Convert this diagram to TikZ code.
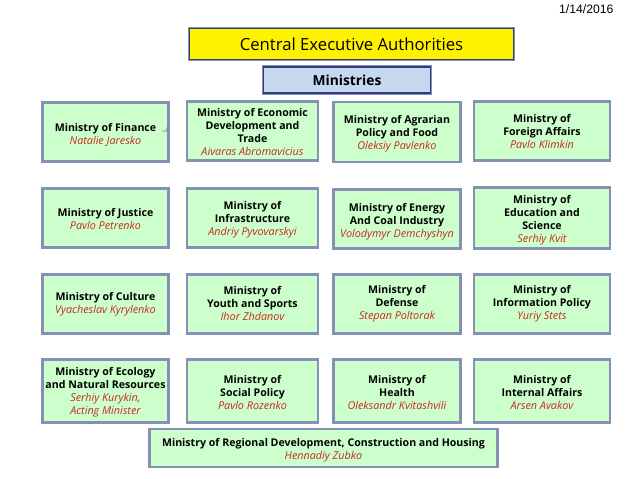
\documentclass[tikz,border=0pt]{standalone}
\usepackage{fontspec}
\setmainfont{Open Sans}
\newfontfamily\datefont{Liberation Sans}
\newcommand{\person}[1]{{\color{namered}\fontsize{10.8}{13}\selectfont\itshape\mdseries #1}}
\newcommand{\topgap}[1]{\rule{0pt}{#1}}
\definecolor{namered}{HTML}{C8281E}
\definecolor{boxgreen}{HTML}{CCFFCC}
\definecolor{boxedge}{HTML}{8490B4}
\definecolor{headblue}{HTML}{C6D7F0}
\definecolor{headedge}{HTML}{2E3A7C}
\definecolor{tickblue}{HTML}{4A7FB5}
\tikzset{
    ministrybox/.style={draw=boxedge, line width=2.4pt, fill=boxgreen, inner sep=0pt, align=center,
        font=\fontsize{10.6}{13}\selectfont\bfseries},
    headbox/.style={preaction={draw=boxedge, line width=3.6pt}, draw=headedge, line width=1.6pt, inner sep=0pt, align=center},
}
\begin{document}
\begin{tikzpicture}[x=1pt,y=1pt]
                \useasboundingbox (0,0) rectangle (638,479);
                \node[font=\datefont\fontsize{12.2}{14}\selectfont, anchor=east] (datelabel) at (617,470) {1/14/2016};

                \node[headbox, fill=yellow, minimum width=324pt, minimum height=31pt, font=\fontsize{16.7}{19}\selectfont] (central) at (351.5,435) {Central Executive Authorities};
                \node[headbox, fill=headblue, minimum width=167pt, minimum height=26pt, font=\fontsize{13.8}{16}\selectfont\bfseries] (ministries) at (347,399) {Ministries};

                % first row
                \node[ministrybox, minimum width=126pt, minimum height=59pt] (finance) at (105.5,347) {\topgap{14pt}Ministry of Finance\\\person{Natalie Jaresko}};
                \node[ministrybox, minimum width=131pt, minimum height=59pt] (economy) at (252.5,348) {\topgap{10pt}Ministry of Economic\\Development and\\Trade\\\person{Aivaras Abromavicius}};
                \node[ministrybox, minimum width=127pt, minimum height=60pt] (agrarian) at (397,347) {\topgap{12pt}Ministry of Agrarian\\Policy and Food\\\person{Oleksiy Pavlenko}};
                \node[ministrybox, minimum width=136pt, minimum height=59pt] (foreign) at (542,348) {\topgap{10pt}Ministry of\\Foreign Affairs\\\person{Pavlo Klimkin}};

                % second row
                \node[ministrybox, minimum width=126pt, minimum height=59pt] (justice) at (105.5,261) {\topgap{10pt}Ministry of Justice\\\person{Pavlo Petrenko}};
                \node[ministrybox, minimum width=131pt, minimum height=59pt] (infrastructure) at (252.5,261) {\topgap{12pt}Ministry of\\Infrastructure\\\person{Andriy Pyvovarskyi}};
                \node[ministrybox, minimum width=127pt, minimum height=59pt] (energy) at (397,260) {\topgap{13pt}Ministry of Energy\\And Coal Industry\\\person{Volodymyr Demchyshyn}};
                \node[ministrybox, minimum width=136pt, minimum height=61pt] (education) at (542,261) {\topgap{12pt}Ministry of\\Education and\\Science\\\person{Serhiy Kvit}};

                % third row
                \node[ministrybox, minimum width=126pt, minimum height=59pt] (culture) at (105.5,175) {Ministry of Culture\\\person{Vyacheslav Kyrylenko}};
                \node[ministrybox, minimum width=131pt, minimum height=59pt] (youth) at (252.5,175) {Ministry of\\Youth and Sports\\\person{Ihor Zhdanov}};
                \node[ministrybox, minimum width=127pt, minimum height=59pt] (defense) at (397,175) {Ministry of\\Defense\\\person{Stepan Poltorak}};
                \node[ministrybox, minimum width=136pt, minimum height=59pt] (information) at (542,175) {Ministry of\\Information Policy\\\person{Yuriy Stets}};

                % fourth row
                \node[ministrybox, minimum width=126pt, minimum height=63pt] (ecology) at (105.5,88) {\topgap{11pt}Ministry of Ecology\\and Natural Resources\\\person{Serhiy Kurykin,}\\\person{Acting Minister}};
                \node[ministrybox, minimum width=131pt, minimum height=63pt] (social) at (252.5,88) {\topgap{11pt}Ministry of\\Social Policy\\\person{Pavlo Rozenko}};
                \node[ministrybox, minimum width=127pt, minimum height=63pt] (health) at (397,88) {\topgap{11pt}Ministry of\\Health\\\person{Oleksandr Kvitashvili}};
                \node[ministrybox, minimum width=136pt, minimum height=63pt] (internal) at (542,88) {\topgap{11pt}Ministry of\\Internal Affairs\\\person{Arsen Avakov}};

                \node[ministrybox, minimum width=348pt, minimum height=38pt] (regional) at (323.5,31) {\topgap{12pt}Ministry of Regional Development, Construction and Housing\\\person{Hennadiy Zubko}};

                \draw[draw=tickblue, line width=0.7pt] ([shift={(-7pt,1pt)}]finance.east) -- ([shift={(-3pt,1pt)}]finance.east) -- ([shift={(-2.5pt,5pt)}]finance.east);
\end{tikzpicture}
\end{document}
